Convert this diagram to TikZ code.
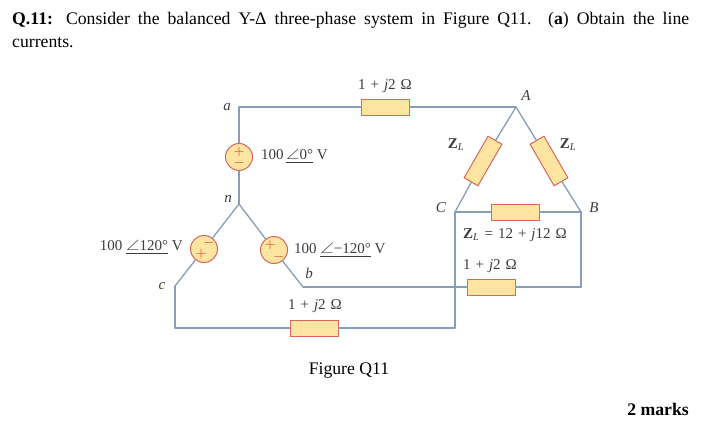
\documentclass[tikz,border=0pt]{standalone}
\usepackage{amsmath}
\usepackage{amssymb}
\usepackage{fontspec}
\setmainfont{Liberation Serif}
\usepackage{tikz}
\definecolor{wirecol}{RGB}{136,158,182}
\definecolor{loadfill}{RGB}{253,228,160}
\definecolor{loadedge}{RGB}{216,104,92}
\definecolor{inkcol}{RGB}{60,60,60}
\definecolor{signcol}{RGB}{205,60,50}
\newcommand{\phasorang}[1]{\underline{\scalebox{1.25}[1]{$\angle$}#1}}
\newcommand{\linedrop}{1\,\,+\,\,\textit{j}2\,\,Ω}

\begin{document}
\begin{tikzpicture}[x=1pt,y=-1pt,auto,
			load node/.style={rectangle,fill=loadfill,draw=loadedge,line width=1pt,
				minimum width=48pt,minimum height=16pt,inner sep=0pt},
			source node/.style={circle,fill=loadfill,draw=loadedge,line width=1pt,
				minimum size=27pt,inner sep=0pt},
			sign node/.style={font=\fontsize{14}{14}\selectfont,text=signcol,inner sep=0pt},
			tag node/.style={font=\fontsize{15}{17}\selectfont,text=inkcol,inner sep=0pt},
			page node/.style={font=\fontsize{17.7}{23.5}\selectfont,inner sep=0pt}]
			
			\useasboundingbox (0,0) rectangle (719,431);
			
			% junctions
			\coordinate (a) at (239,107);
			\coordinate (n) at (239,204);
			\coordinate (b) at (303,287);
			\coordinate (c) at (175,286);
			\coordinate (d) at (175,328);
			\coordinate (A) at (516,107);
			\coordinate (B) at (581,212);
			\coordinate (C) at (455,212);
			\coordinate (E) at (581,287);
			\coordinate (F) at (455,328);
			
			% sources
			\node[source node] (Sa) at (239,157) {};
			\node[source node] (Sb) at (274,250) {};
			\node[source node] (Sc) at (204,249) {};
			\node[sign node] (Sap) at (239,151.5) {$+$};
			\node[sign node] (Sam) at (239,162.5) {$-$};
			\node[sign node] (Sbp) at (270,245) {$+$};
			\node[sign node] (Sbm) at (279,257) {$-$};
			\node[sign node] (Scp) at (201,254) {$+$};
			\node[sign node] (Scm) at (209,243) {$-$};
			
			% loads
			\node[load node] (Ra) at (385,107) {};
			\node[load node] (Rb) at (491,287) {};
			\node[load node] (Rc) at (314,328) {};
			\node[load node] (Rab) [rotate=-60] at (549,161) {};
			\node[load node] (Rac) [rotate=60] at (483,161) {};
			\node[load node] (Rbc) at (515,212) {};
			
			\path[-,draw=wirecol,line width=1.3pt,line cap=round,line join=round]
			(a) edge (Ra)
			(Ra) edge (A)
			(a) edge (Sa)
			(Sa) edge (n)
			(n) edge (Sb)
			(Sb) edge (b)
			(n) edge (Sc)
			(Sc) edge (c)
			(c) edge (d)
			(d) edge (Rc)
			(Rc) edge (F)
			(F) edge (C)
			(b) edge (Rb)
			(Rb) edge (E)
			(E) edge (B)
			(A) edge (Rab)
			(Rab) edge (B)
			(A) edge (Rac)
			(Rac) edge (C)
			(C) edge (Rbc)
			(Rbc) edge (B);
			
			% circuit labels
			\node[tag node] (la) [left of=a,node distance=12pt] {\textit{a}};
			\node[tag node] (ln) [left of=n,node distance=11pt,yshift=5pt] {\textit{n}};
			\node[tag node] (lb) at (309,273) {\textit{b}};
			\node[tag node] (lc) [left of=c,node distance=13pt] {\textit{c}};
			\node[tag node] (lA) at (526,96) {\textit{A}};
			\node[tag node] (lB) [right of=B,node distance=13pt,yshift=4pt] {\textit{B}};
			\node[tag node] (lC) [left of=C,node distance=14pt,yshift=4pt] {\textit{C}};
			\node[tag node] (la1) at (385,86) {\linedrop};
			\node[tag node] (lb1) at (490,266) {\linedrop};
			\node[tag node] (lc1) at (315,306) {\linedrop};
			\node[tag node] (zac) at (456,145) {\textbf{Z}$_{\textit{L}}$};
			\node[tag node] (zab) at (568,145) {\textbf{Z}$_{\textit{L}}$};
			\node[tag node] (zbc) at (515,235) {\textbf{Z}$_{\textit{L}}$\,\,=\,\,12\,\,+\,\,\textit{j}12\,\,Ω};
			\node[tag node,anchor=west] (va) at (261,156) {100\,\phasorang{0°} V};
			\node[tag node,anchor=east] (vc) at (183,247) {100 \phasorang{120°} V};
			\node[tag node,anchor=west] (vb) at (294,250) {100 \phasorang{−120°} V};
			
			% page text
			\node[page node,anchor=north west,text width=677pt,align=justify] (head) at (12,12)
			{\textbf{Q.11:} Consider the balanced Y-Δ three-phase system in Figure Q11. (\textbf{a}) Obtain the line\linebreak currents.};
			\node[page node] (fig) at (349,371) {Figure Q11};
			\node[page node,anchor=east] (marks) at (689,409) {\textbf{2 marks}};
		\end{tikzpicture}
\end{document}
